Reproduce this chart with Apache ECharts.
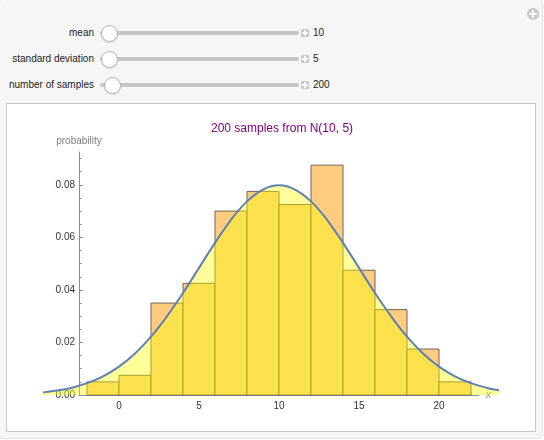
<!DOCTYPE html>
<html>
<head>
<meta charset="utf-8">
<script src="https://cdn.jsdelivr.net/npm/echarts@6/dist/echarts.min.js"></script>
<style>
  html, body { margin: 0; padding: 0; width: 544px; height: 440px; background: #fff; overflow: hidden; }
  body { position: relative; font-family: "Liberation Sans", Arial, sans-serif; }
  .frame {
    position: absolute; left: -2px; top: -2px; width: 545px; height: 441px;
    box-sizing: border-box; background: #f6f6f6;
    border: 1px solid #e0e0e0; border-radius: 6px;
  }
  .panel {
    position: absolute; left: 6px; top: 103px; width: 530px; height: 329px;
    box-sizing: border-box; background: #fff; border: 1px solid #c8c8c8;
  }
  .row { position: absolute; left: 0; width: 544px; height: 20px; }
  .row .label {
    position: absolute; right: 450px; top: 3px; font-size: 10px; color: #222;
    white-space: nowrap; line-height: 14px;
  }
  .row .track {
    position: absolute; left: 100px; top: 8px; width: 199px; height: 4px;
    background: #c4c4c4; border-radius: 2px;
  }
  .row .knob {
    position: absolute; top: 2px; width: 15px; height: 15px; margin-left: -8px;
    border-radius: 50%; background: #fff; border: 1px solid #b4b4b4;
    box-shadow: 0 1px 1px rgba(0,0,0,0.12);
  }
  .row .plus {
    position: absolute; left: 301px; top: 6px; width: 8px; height: 8px;
    background: #c8c8c8; border-radius: 1px;
  }
  .plus::before, .plus::after, .gear::before, .gear::after {
    content: ""; position: absolute; background: #fff;
  }
  .row .plus::before { left: 3px; top: 1px; width: 2px; height: 6px; }
  .row .plus::after { left: 1px; top: 3px; width: 6px; height: 2px; }
  .row .value {
    position: absolute; left: 313px; top: 3px; font-size: 10px; color: #222; line-height: 14px;
  }
  .gear {
    position: absolute; left: 527px; top: 8px; width: 12px; height: 12px;
    border-radius: 50%; background: #c8c8c8;
  }
  .gear::before { left: 5px; top: 2px; width: 2px; height: 8px; }
  .gear::after { left: 2px; top: 5px; width: 8px; height: 2px; }
  #chart { position: absolute; left: 0; top: 0; width: 544px; height: 440px; }
</style>
</head>
<body>
<div class="frame"></div>
<div class="gear"></div>
<div class="row" style="top:23px">
  <div class="label">mean</div><div class="track"></div>
  <div class="knob" style="left:109px"></div><div class="plus"></div><div class="value">10</div>
</div>
<div class="row" style="top:49px">
  <div class="label">standard deviation</div><div class="track"></div>
  <div class="knob" style="left:109px"></div><div class="plus"></div><div class="value">5</div>
</div>
<div class="row" style="top:75px">
  <div class="label">number of samples</div><div class="track"></div>
  <div class="knob" style="left:112px"></div><div class="plus"></div><div class="value">200</div>
</div>
<div class="panel"></div>
<div id="chart"></div>

<script>
// histogram bins (width 2) and the sample densities
var binStart = [-2, 0, 2, 4, 6, 8, 10, 12, 14, 16, 18, 20];
var binEnd = [0, 2, 4, 6, 8, 10, 12, 14, 16, 18, 20, 22];
var density = [0.005, 0.0075, 0.035, 0.0425, 0.07, 0.0775, 0.0725, 0.0875, 0.0475, 0.0325, 0.0175, 0.005];

// normal curve N(10, 5)
var curveX = [-4.75, -4, -3, -2, -1, 0, 1, 2, 3, 4, 5, 6, 7, 8, 9, 10,
  11, 12, 13, 14, 15, 16, 17, 18, 19, 20, 21, 22, 23, 23.75];
var curveY = [0.0010, 0.0016, 0.0027, 0.0045, 0.0071, 0.0108, 0.0158, 0.0222, 0.0300, 0.0388,
  0.0484, 0.0579, 0.0667, 0.0737, 0.0782, 0.0798, 0.0782, 0.0737, 0.0667, 0.0579,
  0.0484, 0.0388, 0.0300, 0.0222, 0.0158, 0.0108, 0.0071, 0.0045, 0.0027, 0.0018];

// ticks
var xTicks = [0, 5, 10, 15, 20];
var xMinorTicks = [-2, -1, 1, 2, 3, 4, 6, 7, 8, 9, 11, 12, 13, 14, 16, 17, 18, 19, 21, 22];
var yTicks = [0, 0.02, 0.04, 0.06, 0.08];
var yMinorTicks = [0.005, 0.01, 0.015, 0.025, 0.03, 0.035, 0.045, 0.05, 0.055,
  0.065, 0.07, 0.075, 0.085, 0.09];

var barData = [];
for (var i = 0; i < density.length; i++) {
  barData.push([binStart[i], binEnd[i], density[i]]);
}

var axisColor = '#8c8c8c';
var font = 'Liberation Sans, Arial, sans-serif';

var chart = echarts.init(document.getElementById('chart'));
chart.setOption({
  animation: false,
  backgroundColor: 'transparent',
  title: {
    text: '200 samples from N(10, 5)',
    left: 206,
    top: 118,
    textStyle: { color: '#800080', fontSize: 12, fontWeight: 'normal', fontFamily: font }
  },
  grid: { left: 79, right: 65, top: 152, bottom: 45 },
  xAxis: [
    {
      type: 'value', min: -2.5, max: 22.5,
      name: 'x', nameLocation: 'end', nameGap: 7,
      nameTextStyle: { color: '#888', fontSize: 10, fontStyle: 'italic', fontFamily: font },
      splitLine: { show: false },
      axisLine: { onZero: false, lineStyle: { color: axisColor, width: 1 } },
      axisTick: { customValues: xTicks, inside: true, length: 4, lineStyle: { color: axisColor } },
      axisLabel: { customValues: xTicks, margin: 6, color: '#333', fontSize: 10, fontFamily: font }
    },
    {
      type: 'value', min: -2.5, max: 22.5, position: 'bottom',
      splitLine: { show: false },
      axisLine: { show: false, onZero: false },
      axisTick: { customValues: xMinorTicks, inside: true, length: 2.5, lineStyle: { color: axisColor } },
      axisLabel: { show: false }
    }
  ],
  yAxis: [
    {
      type: 'value', min: 0, max: 0.0925,
      name: 'probability', nameLocation: 'end', nameGap: 6,
      nameTextStyle: { color: '#7f7f7f', fontSize: 10, fontFamily: font },
      splitLine: { show: false },
      axisLine: { show: true, onZero: false, lineStyle: { color: axisColor, width: 1 } },
      axisTick: { customValues: yTicks, inside: true, length: 4, lineStyle: { color: axisColor } },
      axisLabel: {
        customValues: yTicks, margin: 4, color: '#333', fontSize: 10, fontFamily: font,
        formatter: function (v) { return v.toFixed(2); }
      }
    },
    {
      type: 'value', min: 0, max: 0.0925, position: 'left',
      splitLine: { show: false },
      axisLine: { show: false, onZero: false },
      axisTick: { customValues: yMinorTicks, inside: true, length: 2.5, lineStyle: { color: axisColor } },
      axisLabel: { show: false }
    }
  ],
  series: [
    {
      // sample histogram
      type: 'custom',
      xAxisIndex: 0, yAxisIndex: 0,
      data: barData,
      encode: { x: [0, 1], y: 2 },
      renderItem: function (params, api) {
        var p0 = api.coord([api.value(0), api.value(2)]);
        var p1 = api.coord([api.value(1), 0]);
        return {
          type: 'rect',
          shape: { x: p0[0], y: p0[1], width: p1[0] - p0[0], height: p1[1] - p0[1] },
          style: { fill: '#ffcc80', stroke: '#6f6455', lineWidth: 1 }
        };
      }
    },
    {
      // density curve with translucent fill; runs past the axis ends like the original
      type: 'custom',
      xAxisIndex: 0, yAxisIndex: 0,
      clip: false,
      data: [[curveX[0], curveY[0]]],
      renderItem: function (params, api) {
        var pts = [];
        for (var k = 0; k < curveX.length; k++) {
          pts.push(api.coord([curveX[k], curveY[k]]));
        }
        var area = pts.slice();
        area.push(api.coord([curveX[curveX.length - 1], 0]));
        area.push(api.coord([curveX[0], 0]));
        return {
          type: 'group',
          children: [
            { type: 'polygon', shape: { points: area }, style: { fill: 'rgba(255,255,0,0.4)' } },
            {
              type: 'polyline', shape: { points: pts, smooth: 0.4 },
              style: { stroke: '#5e81b5', lineWidth: 2, fill: null }
            }
          ]
        };
      }
    }
  ]
});
</script>
</body>
</html>
